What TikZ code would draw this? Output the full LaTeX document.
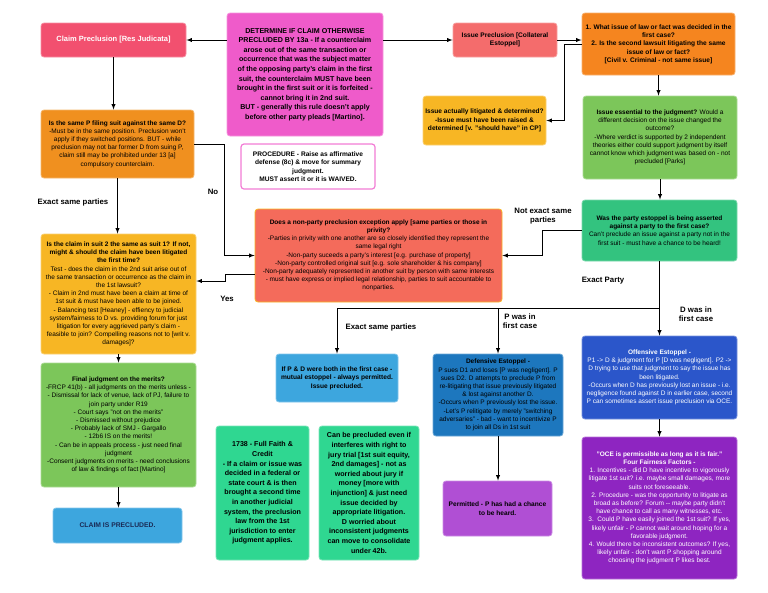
\documentclass[tikz,border=0pt]{standalone}
\usepackage{fontspec}
\setmainfont{Liberation Sans}

\definecolor{cpink}{HTML}{F2506F}
\definecolor{cmagenta}{HTML}{EF5BCA}
\definecolor{csalmon}{HTML}{F46C6C}
\definecolor{corange}{HTML}{F5851F}
\definecolor{cdorange}{HTML}{F0901F}
\definecolor{cyellow}{HTML}{F7B624}
\definecolor{cgreen}{HTML}{7CC65A}
\definecolor{cteal}{HTML}{33C37F}
\definecolor{cmint}{HTML}{2FD791}
\definecolor{cred}{HTML}{F46B5B}
\definecolor{cblue}{HTML}{3DA6DE}
\definecolor{cdblue}{HTML}{1D77BE}
\definecolor{croyal}{HTML}{2B56CA}
\definecolor{cviolet}{HTML}{B04FD4}
\definecolor{cpurple}{HTML}{8E25C1}
\definecolor{navy}{HTML}{1A2A55}

\tikzset{
  box/.style={rounded corners=3pt, align=center, inner sep=2pt, line width=.8pt,
    fill=#1, draw=#1!65!white, font=\fontsize{6.5}{8.2}\selectfont},
  boldsmall/.style={font=\bfseries\fontsize{6.6}{8.3}\selectfont},
  bigtext/.style={font=\bfseries\fontsize{7.1}{9.6}\selectfont},
  lbl/.style={align=center, font=\bfseries\fontsize{7.8}{9.5}\selectfont},
}

\begin{document}
\begin{tikzpicture}[x=1pt, y=-1pt]
\useasboundingbox (0,0) rectangle (768,592);

% claim side
\node[box=cpink, minimum width=145pt, minimum height=34pt, text=white,
  font=\bfseries\fontsize{7.5}{9}\selectfont] (claim) at (113.5,40) {Claim Preclusion [Res Judicata]};
\node[box=cmagenta, bigtext, minimum width=156pt, minimum height=123pt] (det) at (305,74.5)
  {DETERMINE IF CLAIM OTHERWISE\\PRECLUDED BY 13a - If a counterclaim\\arose out of the same transaction or\\occurrence that was the subject matter\\of the opposing party's claim in the first\\suit, the counterclaim MUST have been\\brought in the first suit or it is forfeited -\\cannot bring it in 2nd suit.\\BUT - generally this rule doesn't apply\\before other party pleads [Martino].};
\node[box=white, draw=cmagenta!80!white, line width=1.2pt, minimum width=134pt, minimum height=45pt,
  boldsmall] (proc) at (308,166.5)
  {PROCEDURE - Raise as affirmative\\defense (8c) \& move for summary\\judgment.\\MUST assert it or it is WAIVED.};
\node[box=cdorange, minimum width=153pt, minimum height=68pt] (samep) at (117.5,144)
  {\textbf{Is the same P filing suit against the same D?}\\-Must be in the same position. Preclusion won't\\apply if they switched positions. BUT - while\\preclusion may not bar former D from suing P,\\claim still may be prohibited under 13 [a]\\compulsory counterclaim.};
\node[box=cyellow, minimum width=155pt, minimum height=120pt] (sameclaim) at (118.5,294)
  {\textbf{Is the claim in suit 2 the same as suit 1? If not,}\\\textbf{might \& should the claim have been litigated}\\\textbf{the first time?}\\Test - does the claim in the 2nd suit arise out of\\the same transaction or occurrence as the claim in\\the 1st lawsuit?\\- Claim in 2nd must have been a claim at time of\\1st suit \& must have been able to be joined.\\- Balancing test [Heaney] - effiency to judicial\\system/fairness to D vs. providing forum for just\\litigation for every aggrieved party's claim -\\feasible to join? Compelling reasons not to [writ v.\\damages]?};
\node[box=cgreen, minimum width=155pt, minimum height=124pt] (final) at (118.5,425)
  {\textbf{Final judgment on the merits?}\\-FRCP 41(b) - all judgments on the merits unless -\\- Dismissal for lack of venue, lack of PJ, failure to\\join party under R19\\- Court says "not on the merits"\\- Dismissed without prejudice\\- Probably lack of SMJ - Gargallo\\- 12b6 IS on the merits!\\- Can be in appeals process - just need final\\judgment\\-Consent judgments on merits - need conclusions\\of law \& findings of fact [Martino]};
\node[box=cblue, minimum width=129pt, minimum height=35pt, text=navy,
  font=\bfseries\fontsize{6.8}{8}\selectfont] (precl) at (117.5,525.5) {CLAIM IS PRECLUDED.};
\node[box=cred, draw=cyellow, minimum width=247pt, minimum height=93pt] (nonparty) at (378.5,255.5)
  {\textbf{Does a non-party preclusion exception apply [same parties or those in}\\\textbf{privity?}\\-Parties in privity with one another are so closely identified they represent the\\same legal right\\-Non-party suceeds a party's interest [e.g. purchase of property]\\-Non-party controlled original suit [e.g. sole shareholder \& his company]\\-Non-party adequately represented in another suit by person with same interests\\- must have express or implied legal relationship, parties to suit accountable to\\nonparties.};

% issue side
\node[box=csalmon, minimum width=104pt, minimum height=34pt, boldsmall] (issue) at (505,40)
  {Issue Preclusion [Collateral\\Estoppel]};
\node[box=corange, minimum width=153pt, minimum height=62pt, boldsmall] (q1) at (658.5,44)
  {1. What issue of law or fact was decided in the\\first case?\\2. Is the second lawsuit litigating the same\\issue of law or fact?\\{[}Civil v. Criminal - not same issue{]}};
\node[box=cyellow, minimum width=123pt, minimum height=49pt, boldsmall] (litig) at (484.5,120.5)
  {Issue actually litigated \& determined?\\-Issue must have been raised \&\\determined [v. "should have" in CP]};
\node[box=cgreen, minimum width=154pt, minimum height=83pt] (essent) at (660,137.5)
  {\textbf{Issue essential to the judgment?} Would a\\different decision on the issue changed the\\outcome?\\-Where verdict is supported by 2 independent\\theories either could support judgment by itself\\cannot know which judgment was based on - not\\precluded [Parks]};
\node[box=cteal, minimum width=155pt, minimum height=61pt] (party) at (659.5,230.5)
  {\textbf{Was the party estoppel is being asserted}\\\textbf{against a party to the first case?}\\Can't preclude an issue against a party not in the\\first suit - must have a chance to be heard!};
\node[box=cblue, minimum width=122pt, minimum height=48pt, boldsmall] (mutual) at (337,378)
  {If P \& D were both in the first case -\\mutual estoppel - always permitted.\\Issue precluded.};
\node[box=cmint, bigtext, minimum width=93pt, minimum height=134pt] (fullfaith) at (262.5,493)
  {1738 - Full Faith \&\\Credit\\- If a claim or issue was\\decided in a federal or\\state court \& is then\\brought a second time\\in another judicial\\system, the preclusion\\law from the 1st\\jurisdiction to enter\\judgment applies.};
\node[box=cmint, bigtext, minimum width=100pt, minimum height=134pt] (jury) at (369,493)
  {Can be precluded even if\\interferes with right to\\jury trial [1st suit equity,\\2nd damages] - not as\\worried about jury if\\money [more with\\injunction] \& just need\\issue decided by\\appropriate litigation.\\D worried about\\inconsistent judgments\\can move to consolidate\\under 42b.};
\node[box=cdblue, minimum width=130pt, minimum height=82pt] (defens) at (498,395)
  {\textbf{Defensive Estoppel -}\\P sues D1 and loses [P was negligent]. P\\sues D2. D attempts to preclude P from\\re-litigating that issue previously litigated\\\& lost against another D.\\-Occurs when P previously lost the issue.\\-Let's P relitigate by merely "switching\\adversaries" - bad - want to incentivize P\\to join all Ds in 1st suit};
\node[box=cviolet, minimum width=109pt, minimum height=55pt, boldsmall] (permit) at (497.5,508.5)
  {Permitted - P has had a chance\\to be heard.};
\node[box=croyal, text=white, minimum width=155pt, minimum height=83pt] (offens) at (659.5,377.5)
  {\textbf{Offensive Estoppel -}\\P1 -> D \& judgment for P [D was negligent]. P2 ->\\D trying to use that judgment to say the issue has\\been litigated.\\-Occurs when D has previously lost an issue - i.e.\\negligence found against D in earlier case, second\\P can sometimes assert issue preclusion via OCE.};
\node[box=cpurple, text=white, minimum width=155pt, minimum height=142pt] (oce) at (659.5,508)
  {\textbf{"OCE is permissible as long as it is fair."}\\\textbf{Four Fairness Factors -}\\1. Incentives - did D have incentive to vigorously\\litigate 1st suit? i.e. maybe small damages, more\\suits not foreseeable.\\2. Procedure - was the opportunity to litigate as\\broad as before? Forum -{}- maybe party didn't\\have chance to call as many witnesses, etc.\\3.\ \ Could P have easily joined the 1st suit? If yes,\\likely unfair - P cannot wait around hoping for a\\favorable judgment.\\4. Would there be inconsistent outcomes? If yes,\\likely unfair - don't want P shopping around\\choosing the judgment P likes best.};

% connectors
\draw[-latex, line width=.9pt] (det.west |- claim.east) -- (claim.east);
\draw[-latex, line width=.9pt] (det.east |- issue.west) -- (issue.west);
\draw[-latex, line width=.9pt] (claim.south) -- (claim.south |- samep.north);
\draw[-latex, line width=.9pt] (samep.south) -- (samep.south |- sameclaim.north);
\draw[-latex, line width=.9pt] (samep.east) -- ++(30,0) |- (nonparty.west);
\draw[-latex, line width=.9pt] ([yshift=-18.5pt]nonparty.west) -- ++(-29,0) |- ([yshift=13pt]sameclaim.east);
\draw[-latex, line width=.9pt] (sameclaim.south) -- (sameclaim.south |- final.north);
\draw[-latex, line width=.9pt] (final.south) -- (final.south |- precl.north);

\draw[-latex, line width=.9pt] (issue.east) -- (issue.east -| q1.west);
\draw[-latex, line width=.9pt] (q1.west) -- ++(-17,0) |- (litig.east);
\draw[-latex, line width=.9pt] (q1.south) -- (q1.south |- essent.north);
\draw[-latex, line width=.9pt] (essent.south) -- (essent.south |- party.north);
\draw[-latex, line width=.9pt] (party.west) -- ++(-39,0) |- (nonparty.east);
\draw[-latex, line width=.9pt] (party.south) -- (offens.north);
\coordinate (split) at ([yshift=-47pt]party.south);
\draw[-latex, line width=.9pt] (split) -| (mutual.north);
\draw[-latex, line width=.9pt] (split -| defens.north) -- (defens.north);
\draw[-latex, line width=.9pt] (defens.south) -- (defens.south |- permit.north);
\draw[-latex, line width=.9pt] (offens.south) -- (oce.north);

% labels
\node[lbl] (lno) at (213,192) {No};
\node[lbl] (lexact) at (73,202) {Exact same parties};
\node[lbl] (lyes) at (227,299) {Yes};
\node[lbl] (lnotexact) at (543,216) {Not exact same\\parties};
\node[lbl] (lexparty) at (603,281) {Exact Party};
\node[lbl] (ldwas) at (696,314) {D was in\\first case};
\node[lbl] (lpwas) at (520,321) {P was in\\first case};
\node[lbl] (lexsame) at (381,327) {Exact same parties};
\end{tikzpicture}
\end{document}
